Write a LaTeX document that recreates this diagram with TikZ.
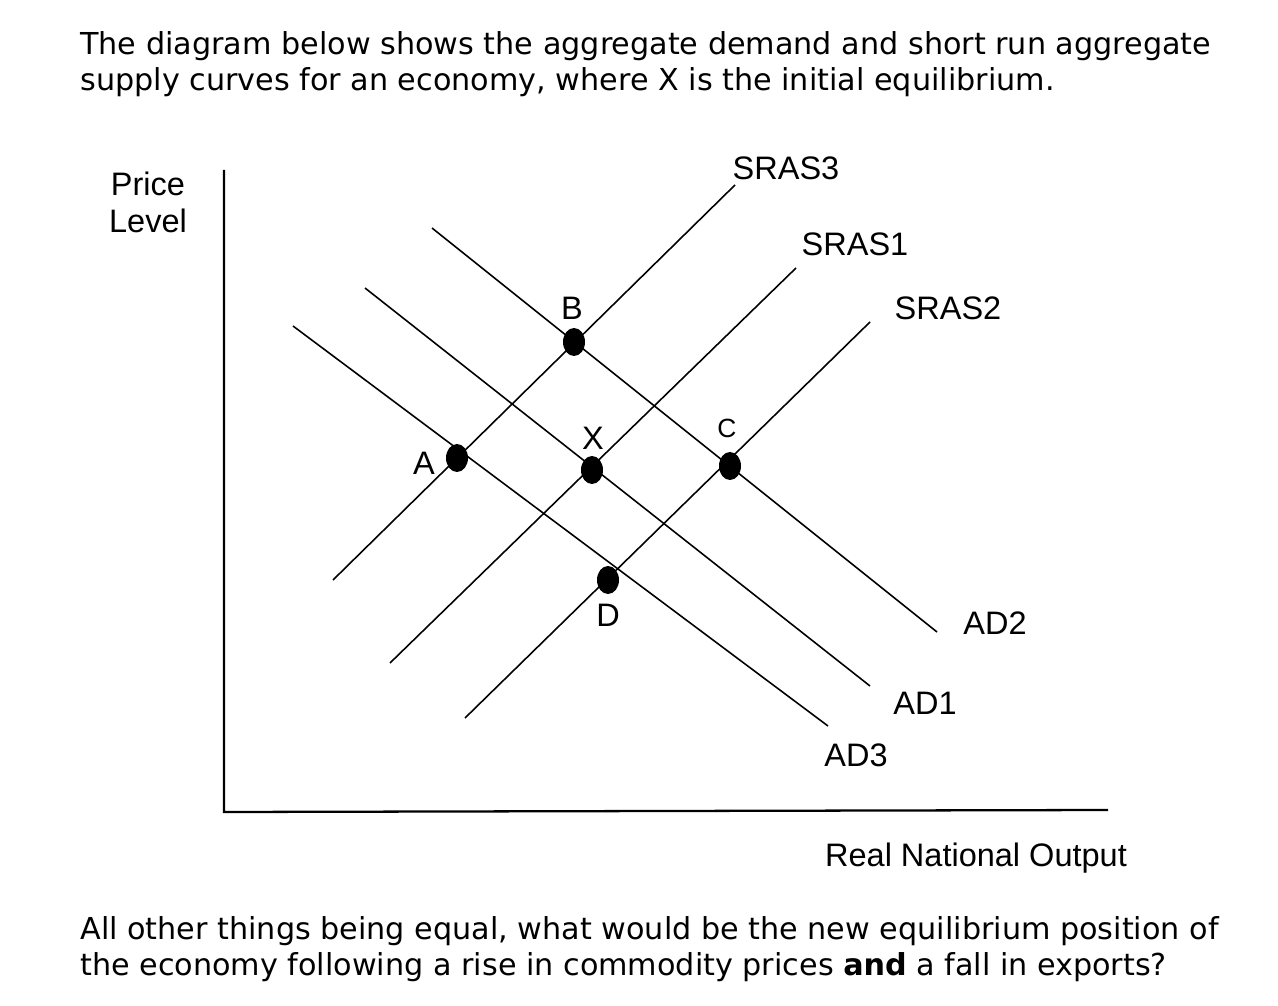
\documentclass[tikz,border=0pt]{standalone}
\usepackage{fontspec}
\setmainfont{Liberation Sans}
\newfontfamily\verd{DejaVu Sans}
\begin{document}
\begin{tikzpicture}[x=0.02cm,y=-0.02cm,
  curve/.style={line width=0.9pt},
  lab/.style={font=\fontsize{18.5}{21}\selectfont, inner sep=0pt},
  dot/.style={fill=black}]
\useasboundingbox (0,0) rectangle (1278,1006);
\node[anchor=north west, align=left, inner sep=0pt, font=\verd\fontsize{17.2}{20.5}\selectfont] (title) at (80,31) {The diagram below shows the aggregate demand and short run aggregate\\supply curves for an economy, where X is the initial equilibrium.};
\node[anchor=north west, align=left, inner sep=0pt, font=\verd\fontsize{17.2}{20.5}\selectfont] (q) at (80,916) {All other things being equal, what would be the new equilibrium position of\\the economy following a rise in commodity prices \textbf{and} a fall in exports?};
% axes
\coordinate (ytop) at (224,170); \coordinate (orig) at (224,812); \coordinate (xend) at (1108,810);
\draw[line width=1.3pt] (ytop) -- (orig) -- (xend);
\node[lab, align=center] (pl) at (148,202) {Price\\Level};
\node[lab] (rno) at (976,858) {Real National Output};
% curves
\coordinate (s3a) at (333,580); \coordinate (s3b) at (735,185);
\coordinate (s1a) at (390,663); \coordinate (s1b) at (796,268);
\coordinate (s2a) at (465,718); \coordinate (s2b) at (870,322);
\coordinate (d2a) at (432,228); \coordinate (d2b) at (937,632);
\coordinate (d1a) at (365,288); \coordinate (d1b) at (870,686);
\coordinate (d3a) at (293,326); \coordinate (d3b) at (828,726);
\foreach \a/\b in {s3a/s3b,s1a/s1b,s2a/s2b,d2a/d2b,d1a/d1b,d3a/d3b} \draw[curve] (\a) -- (\b);
\node[lab] (ls3) at (786,168) {SRAS3};
\node[lab] (ls1) at (855,244) {SRAS1};
\node[lab] (ls2) at (948,308) {SRAS2};
\node[lab] (la2) at (995,623) {AD2};
\node[lab] (la1) at (925,703) {AD1};
\node[lab] (la3) at (856,755) {AD3};
% points
\foreach \n/\x/\y in {pA/457/458,pB/574/342,pX/592/470,pC/730/466,pD/608/580}
  \fill[dot] (\x,\y) coordinate (\n) ellipse (11 and 14);
\node[lab] (tA) at (424,463) {A};
\node[lab] (tB) at (572,308) {B};
\node[lab] (tX) at (593,438) {X};
\node[lab, font=\fontsize{15}{16}\selectfont] (tC) at (727,428) {C};
\node[lab] (tD) at (608,615) {D};
\end{tikzpicture}
\end{document}
